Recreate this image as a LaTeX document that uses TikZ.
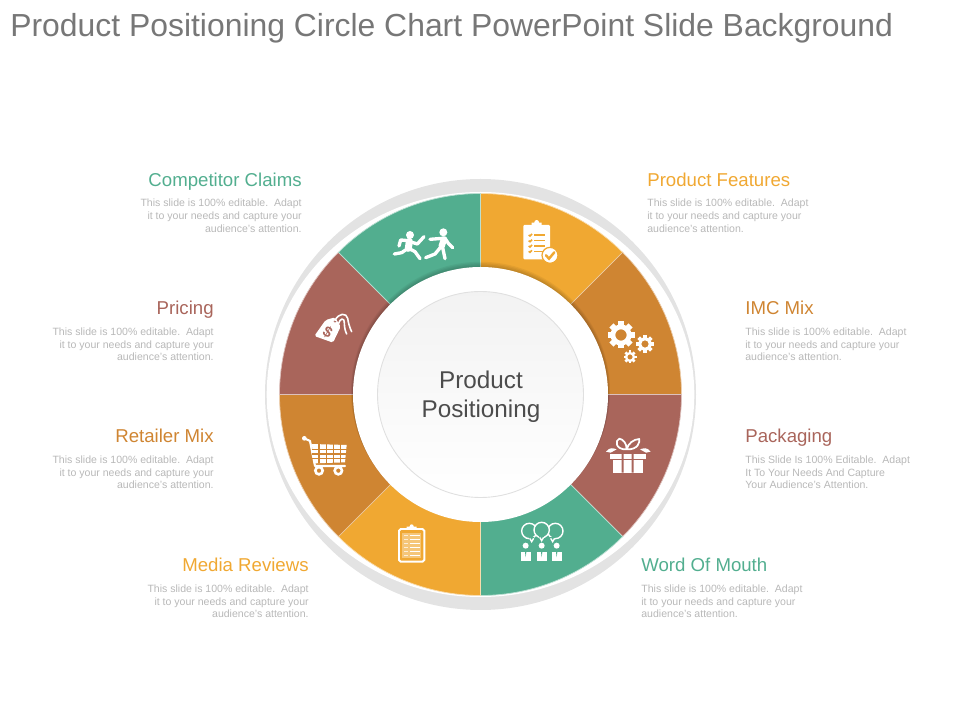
\documentclass[tikz,border=0pt]{standalone}
\usepackage{fontspec}
\setmainfont{Liberation Sans}
\definecolor{teal}{HTML}{52AE8F}
\definecolor{amber}{HTML}{F0A832}
\definecolor{orange}{HTML}{CF8532}
\definecolor{brown}{HTML}{A9655B}
\definecolor{titlegray}{HTML}{777777}
\definecolor{bodygray}{HTML}{B8B8B8}
\usetikzlibrary{calc}
\tikzset{
  headtext/.style = {font=\fontsize{10.6}{12}\selectfont, inner sep=0pt},
  bodytext/.style = {font=\fontsize{6}{7.37}\selectfont, text=bodygray, inner sep=0pt},
  crop/.style 2 args = {shift={(#1,720-#2)}, xscale=1/3, yscale=-1/3},
  icon/.style = {white, line cap=round, line join=round}
}
\newcommand{\stdtxt}{This slide is 100\% editable.\ \ Adapt\\it to your needs and capture your\\audience's attention.}
\newcommand{\gearicon}[3]{%
  \draw[white, line width=#3*0.2pt] (#1,#2) circle (#3*0.6);
  \foreach \a in {0,45,...,315}
    \draw[white, line width=#3*0.24pt] ($(#1,#2)+(\a:#3*0.7)$) -- ($(#1,#2)+(\a:#3)$);
}

\begin{document}
\begin{tikzpicture}[x=0.02cm, y=0.02cm]
  \useasboundingbox (0,0) rectangle (960,720);
  \coordinate (mid) at (480.5,325.5);

  \node[font=\fontsize{18.15}{20}\selectfont, text=titlegray, anchor=base west, inner sep=0pt] (title) at (10,683.5)
    {Product Positioning Circle Chart PowerPoint Slide Background};

  % outer rim
  \fill[black!11!white] (mid) circle (215.5);
  \fill[white] (mid) ellipse (213.8 and 202.5);

  % coloured ring
  \begin{scope}[shift={(mid)}]
    \foreach \a/\col in {90/amber,45/orange,0/brown,-45/teal,-90/amber,-135/orange,180/brown,135/teal}
      \filldraw[fill=\col, draw=\col!40!white, line width=0.4pt]
        (\a:201) arc (\a:\a-45:201) -- (\a-45:120) arc (\a-45:\a:120) -- cycle;
    % shadow of the disc
    \foreach \s in {1,2,3,4}
      \fill[black, opacity=0.05] (0,\s*0.8) circle (127.5+\s*0.5);
  \end{scope}

  % centre
  \fill[white] (mid) circle (127.5);
  \shade[top color=black!5, bottom color=white, draw=black!12, line width=0.5pt] (mid) circle (103);
  \node[font=\fontsize{13.8}{16.4}\selectfont, text=black!70, align=center, inner sep=0pt] (centre) at (481,323)
    {Product\\Positioning};

  % texts on the left
  \foreach \nm/\x/\y/\col/\head in {competitor/302/533.5/teal/Competitor Claims,
    pricing/214/405/brown/Pricing,
    retailer/214/277/orange/Retailer Mix,
    media/309/148/amber/Media Reviews}{
    \node[headtext, text=\col, anchor=base east] (\nm) at (\x,\y) {\head};
    \node[bodytext, align=right, anchor=base east] (\nm txt) at (\x,\y-46) {\stdtxt};
  }
  % texts on the right
  \foreach \nm/\x/\y/\col/\head/\txt in {features/647/533.5/amber/Product Features/\stdtxt,
    imc/745/405/orange/IMC Mix/\stdtxt,
    packaging/745/277/brown/Packaging/{This Slide Is 100\% Editable.\ \ Adapt\\It To Your Needs And Capture\\Your Audience's Attention.},
    mouth/641/148/teal/Word Of Mouth/\stdtxt}{
    \node[headtext, text=\col, anchor=base west] (\nm) at (\x,\y) {\head};
    \node[bodytext, align=left, anchor=base west] (\nm txt) at (\x,\y-46) {\txt};
  }

  % runners
  \begin{scope}[crop={330}{180}]
    \fill[white] (240,165) circle (12) (340,157) circle (12);
    \draw[icon, line width=4pt] (238,184) -- (235,205);
    \draw[icon, line width=3.6pt] (342,178) -- (335,198);
    \draw[icon, line width=1.9pt] (235,182) -- (212,180) -- (207,198)
      (240,185) -- (262,192) -- (282,170)
      (234,205) -- (215,218) -- (193,222)
      (236,205) -- (255,215) -- (270,236)
      (338,175) -- (300,178)
      (345,175) -- (355,190) -- (368,203)
      (335,198) -- (315,222) -- (287,233)
      (337,198) -- (345,236);
  \end{scope}

  % clipboard with check
  \begin{scope}[crop={330}{180}]
    \fill[white, rounded corners=0.6pt] (580,135) rectangle (660,238);
    \fill[white] (605,138) rectangle (635,128) (620,127) circle (7);
    \foreach \ly in {165,182,198,214}{
      \draw[amber, line width=0.9pt] (612,\ly) -- (645,\ly);
      \draw[amber, line width=0.9pt] (596,\ly) -- (600,\ly+3) -- (606,\ly-3);
    }
    \filldraw[fill=white, draw=amber, line width=0.7pt] (660,226) circle (24);
    \draw[amber, line width=1.4pt, line cap=round] (648,226) -- (657,236) -- (673,217);
  \end{scope}

  % gears
  \gearicon{621}{385}{13.5}
  \gearicon{645}{376}{9}
  \gearicon{630}{363}{6.5}

  % gift
  \begin{scope}[crop={280}{400}]
    \fill[white] (998,180) rectangle (1090,218);
    \fill[white] (990,162) rectangle (1098,177);
    \fill[brown] (1025,162) rectangle (1031,218) (1055,162) rectangle (1061,218);
    \draw[icon, line width=1pt] (1040,148) .. controls (1005,150) and (1005,120) .. (1018,116)
      .. controls (1030,118) and (1040,130) .. (1040,148)
      .. controls (1075,150) and (1080,125) .. (1078,117)
      .. controls (1060,118) and (1045,130) .. (1040,148);
    \fill[white] (978,155) .. controls (990,140) and (1000,145) .. (1010,148) -- (992,158) -- cycle;
    \fill[white] (1112,155) .. controls (1100,140) and (1090,145) .. (1080,148) -- (1098,158) -- cycle;
  \end{scope}

  % speaking people
  \begin{scope}[crop={280}{400}]
    \foreach \bx/\by/\tx in {748/393/755,826/393/818,785/390/785}{
      \filldraw[fill=teal, draw=white, line width=0.8pt] (\bx,\by) circle (23);
      \filldraw[fill=teal, draw=teal] (\tx-6,\by+20) rectangle (\tx+6,\by+24);
      \draw[white, line width=0.8pt] (\tx-6,\by+22) -- (\tx,\by+32) -- (\tx+6,\by+22);
    }
    \foreach \px in {737,785,830}{
      \fill[white] (\px,437) circle (9);
      \fill[white] (\px-15,482) rectangle (\px+15,456);
      \fill[teal] (\px-2,456) -- (\px+2,456) -- (\px,472) -- cycle;
    }
  \end{scope}

  % plain clipboard
  \begin{scope}[crop={390}{520}]
    \draw[white, line width=1.1pt, rounded corners=1pt] (27,27) rectangle (103,125);
    \fill[white] (50,28) rectangle (80,20) (65,19) circle (6);
    \fill[white, opacity=0.35] (37,38) rectangle (93,115);
    \foreach \ly in {46,58,70,82,94,106}{
      \draw[white, line width=0.9pt] (60,\ly) -- (90,\ly);
      \draw[white, line width=0.9pt, opacity=0.7] (42,\ly) -- (54,\ly);
    }
  \end{scope}

  % cart
  \begin{scope}[crop={295}{430}]
    \fill[white] (28,25) circle (7);
    \draw[icon, line width=1.2pt] (28,25) -- (45,33) -- (60,108) -- (150,108);
    \fill[white] (50,42) -- (155,45) -- (150,97) -- (60,100) -- cycle;
    \foreach \gx in {72,94,116,136}
      \draw[orange, line width=0.7pt] (\gx,42) -- (\gx,100);
    \foreach \gy in {58,72,86}
      \draw[orange, line width=0.7pt] (50,\gy) -- (155,\gy);
    \foreach \wx in {72,130}
      \filldraw[fill=orange, draw=white, line width=1.5pt] (\wx,122) circle (11);
  \end{scope}

  % price tag
  \begin{scope}[crop={305}{300}]
    \fill[white, rounded corners=1pt] (28,108) -- (62,60) -- (90,52) -- (107,80) -- (84,128) -- cycle;
    \fill[brown] (90,64) circle (4);
    \draw[icon, line width=0.9pt] (90,62) .. controls (100,38) and (125,38) .. (128,55)
      .. controls (130,70) and (135,85) .. (140,95);
    \draw[icon, line width=0.9pt] (100,72) .. controls (105,55) and (118,50) .. (118,70)
      .. controls (118,85) and (122,95) .. (125,102);
    \node[text=brown, font=\bfseries\fontsize{8.5}{9}\selectfont, rotate=-30, inner sep=0pt] (dollar) at (68,97) {\$};
  \end{scope}
\end{tikzpicture}
\end{document}
